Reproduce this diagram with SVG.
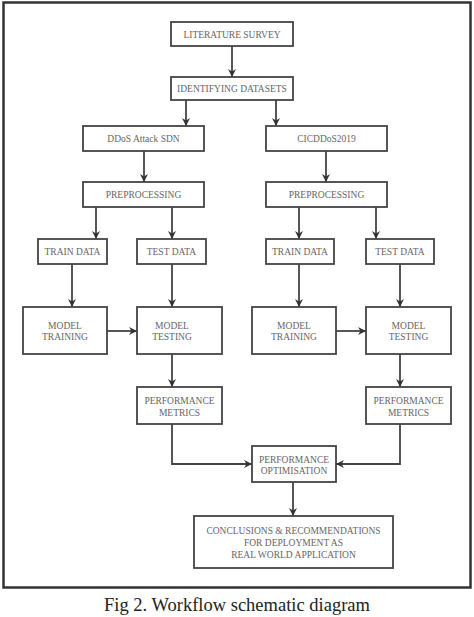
<svg xmlns="http://www.w3.org/2000/svg" width="474" height="617" viewBox="0 0 474 617">
<style>
.box{fill:#fff;stroke:#444;stroke-width:1.8}
.t{font-family:"Liberation Serif","Times New Roman",serif;font-size:9.5px;fill:#666;text-anchor:middle}
.c{fill:none;stroke:#444;stroke-width:1.8}
.cap{font-family:"Liberation Serif","Times New Roman",serif;font-size:18.5px;fill:#222;text-anchor:middle}
</style>
<defs>
<marker id="ah" markerUnits="userSpaceOnUse" markerWidth="9" markerHeight="9" refX="8" refY="4" orient="auto">
<path d="M0,0 L8,4 L0,8 L2.5,4 z" fill="#333"/>
</marker>
</defs>
<rect x="0" y="0" width="474" height="617" fill="#fff"/>
<rect id="frame" x="3.5" y="2.5" width="467" height="585" fill="none" stroke="#333" stroke-width="2.5"/>
<g id="connectors" class="c" marker-end="url(#ah)">
<path d="M232,46 V77"/>
<path d="M186,100 V126"/>
<path d="M276,100 V126"/>
<path d="M144,151 V182"/>
<path d="M326,151 V182"/>
<path d="M96,207 V239"/>
<path d="M172,207 V239"/>
<path d="M299,207 V239"/>
<path d="M376,207 V239"/>
<path d="M72,264 V307"/>
<path d="M172,264 V307"/>
<path d="M299,264 V307"/>
<path d="M400,264 V307"/>
<path d="M107,331 H137"/>
<path d="M336,331 H366"/>
<path d="M172,354 V387"/>
<path d="M400,354 V387"/>
<path d="M172,424 V464 H252"/>
<path d="M400,424 V464 H336"/>
<path d="M293,482 V516"/>
</g>
<g id="literature"><rect class="box" x="171" y="22" width="122" height="24"/><text class="t" x="232" y="37.5">LITERATURE SURVEY</text></g>
<g id="identifying"><rect class="box" x="171" y="77" width="122" height="23"/><text class="t" x="232" y="92">IDENTIFYING DATASETS</text></g>
<g id="ddos"><rect class="box" x="83" y="126" width="121" height="25"/><text class="t" x="143.5" y="142">DDoS Attack SDN</text></g>
<g id="cicddos"><rect class="box" x="266" y="126" width="121" height="25"/><text class="t" x="326.5" y="142">CICDDoS2019</text></g>
<g id="prep1"><rect class="box" x="83" y="182" width="121" height="25"/><text class="t" x="143.5" y="198">PREPROCESSING</text></g>
<g id="prep2"><rect class="box" x="266" y="182" width="121" height="25"/><text class="t" x="326.5" y="198">PREPROCESSING</text></g>
<g id="train1"><rect class="box" x="38" y="239" width="69" height="25"/><text class="t" x="72.5" y="255">TRAIN DATA</text></g>
<g id="test1"><rect class="box" x="137" y="239" width="69" height="25"/><text class="t" x="171.5" y="255">TEST DATA</text></g>
<g id="train2"><rect class="box" x="266" y="239" width="68" height="25"/><text class="t" x="300" y="255">TRAIN DATA</text></g>
<g id="test2"><rect class="box" x="366" y="239" width="68" height="25"/><text class="t" x="400" y="255">TEST DATA</text></g>
<g id="mtrain1"><rect class="box" x="23" y="307" width="84" height="47"/><text class="t" x="65" y="328.5">MODEL</text><text class="t" x="65" y="340">TRAINING</text></g>
<g id="mtest1"><rect class="box" x="137" y="307" width="85" height="47"/><text class="t" x="172" y="328.5">MODEL</text><text class="t" x="172" y="340">TESTING</text></g>
<g id="mtrain2"><rect class="box" x="252" y="307" width="84" height="47"/><text class="t" x="294" y="328.5">MODEL</text><text class="t" x="294" y="340">TRAINING</text></g>
<g id="mtest2"><rect class="box" x="366" y="307" width="85" height="47"/><text class="t" x="408.5" y="328.5">MODEL</text><text class="t" x="408.5" y="340">TESTING</text></g>
<g id="pm1"><rect class="box" x="137" y="387" width="85" height="37"/><text class="t" x="179.5" y="404">PERFORMANCE</text><text class="t" x="179.5" y="416">METRICS</text></g>
<g id="pm2"><rect class="box" x="366" y="387" width="85" height="37"/><text class="t" x="408.5" y="404">PERFORMANCE</text><text class="t" x="408.5" y="416">METRICS</text></g>
<g id="po"><rect class="box" x="252" y="446" width="84" height="36"/><text class="t" x="294" y="462.5">PERFORMANCE</text><text class="t" x="294" y="474">OPTIMISATION</text></g>
<g id="conclusions"><rect class="box" x="194" y="516" width="199" height="52"/><text class="t" x="293.5" y="533.5">CONCLUSIONS &amp; RECOMMENDATIONS</text><text class="t" x="293.5" y="545.5">FOR DEPLOYMENT AS</text><text class="t" x="293.5" y="557.5">REAL WORLD APPLICATION</text></g>
<text class="cap" x="237" y="611">Fig 2. Workflow schematic diagram</text>
</svg>
